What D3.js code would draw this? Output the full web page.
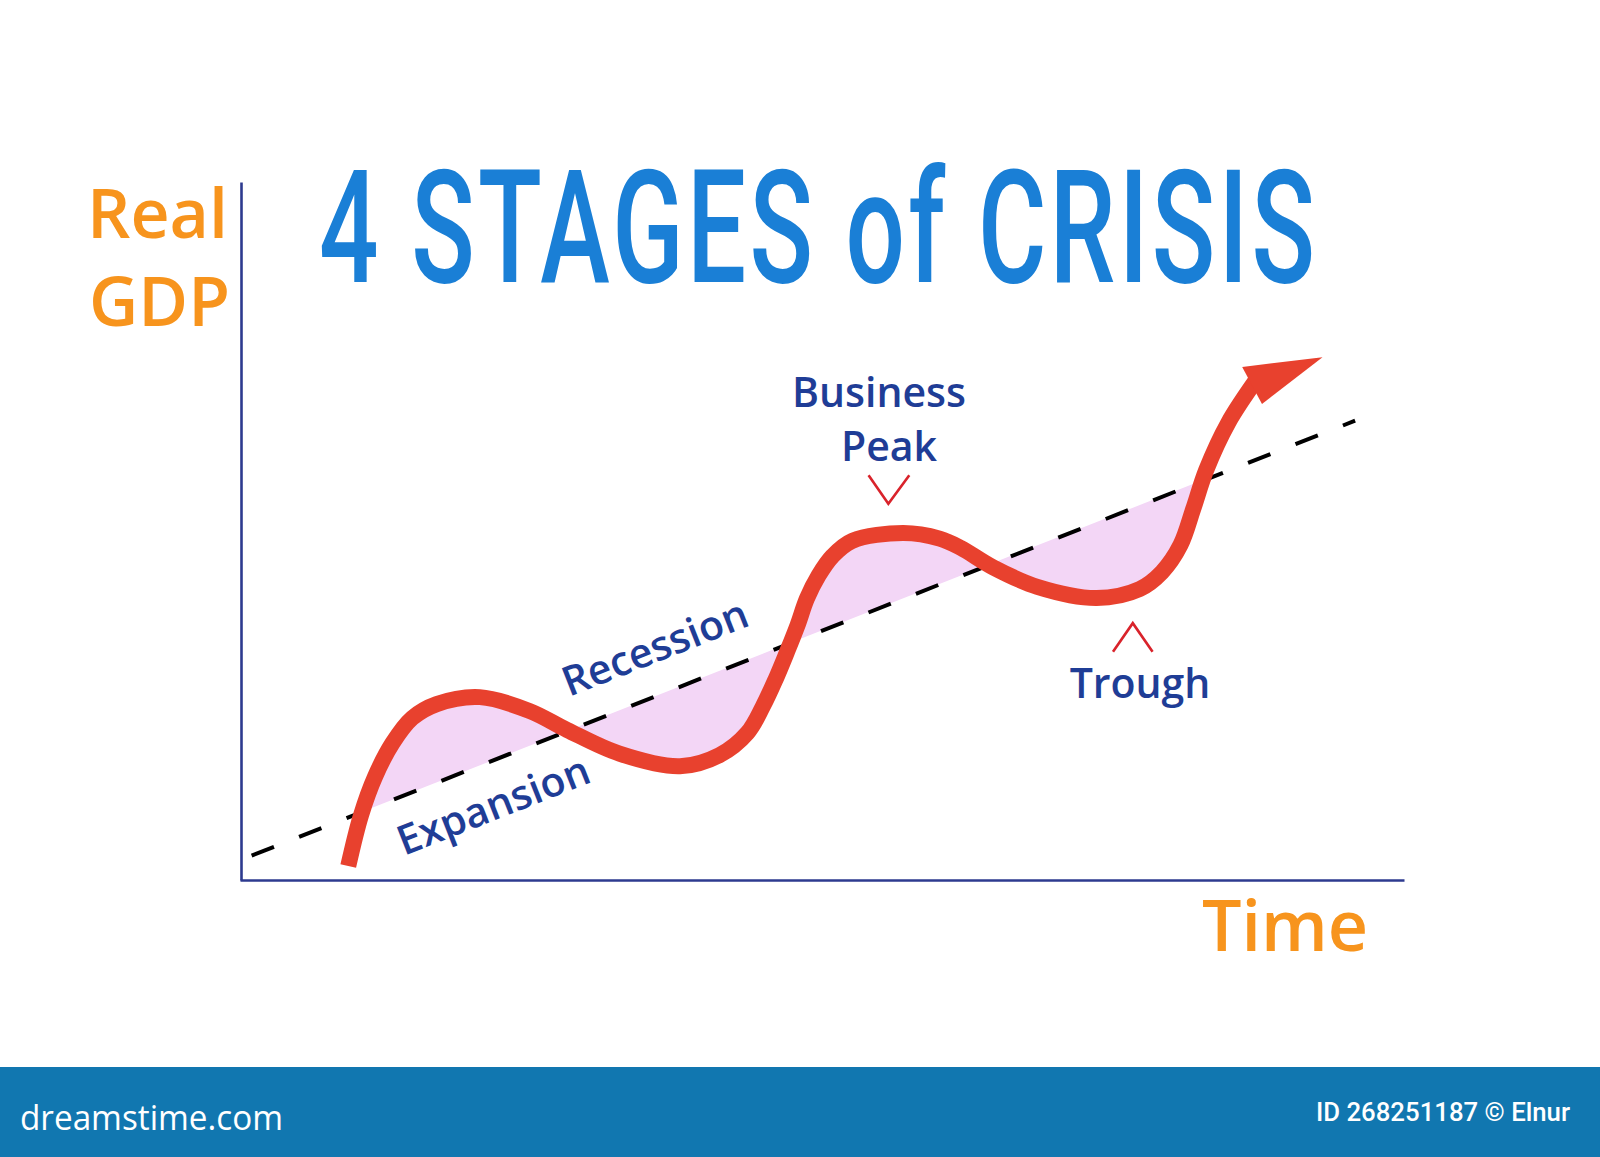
<!DOCTYPE html>
<html>
<head>
<meta charset="utf-8">
<script src="https://cdn.jsdelivr.net/npm/d3@7"></script>
<style>
  html, body { margin: 0; padding: 0; background: #ffffff; }
  svg { display: block; }
</style>
</head>
<body>
<svg id="chart" width="1600" height="1157"></svg>
<script>
// ---------------- DATA ----------------
const chartTitle = "4 STAGES of CRISIS";
const yAxisLabel = ["Real", "GDP"];
const xAxisLabel = "Time";
const stageLabels = ["Expansion", "Recession", "Business", "Peak", "Trough"];
const footerLeft = "dreamstime.com";
const footerRight = "ID 268251187 \u00A9 Elnur";

// business-cycle curve (time, real GDP) in arbitrary 0-100 units
const timeValues = [9.3, 10.4, 11.6, 13.1, 14.8, 16.9, 20.6, 24.9, 28.1, 32.6,
                    37.8, 41.2, 43.6, 44.9, 46.0, 47.0, 47.9, 48.7, 49.7, 50.9,
                    52.6, 57.0, 60.1, 61.9, 64.7, 68.5, 73.6, 77.3, 79.2, 80.8,
                    81.9, 83.0, 84.9, 87.5];
const gdpValues  = [2.0, 9.3, 14.8, 19.6, 23.2, 25.2, 26.2, 24.2, 21.5, 18.1,
                    16.3, 17.9, 21.1, 24.8, 28.7, 32.7, 36.5, 40.3, 43.6, 46.4,
                    48.6, 49.7, 48.9, 47.6, 44.8, 42.0, 40.4, 41.7, 44.1, 48.0,
                    53.2, 58.7, 65.5, 72.1];

// long-run trend (dashed line)
const trendTime = [1.0, 95.8];
const trendGdp  = [3.5, 65.8];

// arrow head at the end of the curve
const arrowTime = [93.0, 86.1, 87.8];
const arrowGdp  = [74.9, 73.5, 68.2];

// small chevron markers
const peakMarkTime   = [54.0, 55.7, 57.5];
const peakMarkGdp    = [58.0, 53.9, 58.0];
const troughMarkTime = [75.0, 76.7, 78.4];
const troughMarkGdp  = [32.7, 36.8, 32.7];

// ---------------- DRAWING ----------------
const svg = d3.select("#chart");
const W = 1600, H = 1157;

const x = d3.scaleLinear().domain([0, 100]).range([240, 1404]);
const y = d3.scaleLinear().domain([0, 100]).range([880, 182]);

const colors = {
  curve: "#e8412e",
  fill: "#f3d6f6",
  axis: "#2d3a8f",
  label: "#1f3d96",
  orange: "#f7941d",
  title: "#1a7fd6",
  marker: "#d9232b",
  footer: "#1177b0"
};

svg.append("rect").attr("width", W).attr("height", H).attr("fill", "#fff");

// title: condensed look by horizontal scaling of the glyphs
const titleSpacing = 5;
const titleText = svg.append("text")
  .attr("x", 0).attr("y", 0)
  .attr("font-family", "Roboto, 'Noto Sans', sans-serif")
  .attr("font-weight", 500)
  .attr("font-size", 157)
  .attr("letter-spacing", titleSpacing)
  .attr("fill", colors.title)
  .text(chartTitle);
const tb = titleText.node().getBBox();
const titleW = tb.width - titleSpacing;
titleText.attr("transform", `translate(319,282) scale(${996 / titleW},1)`);

// axes (domain lines only)
const xAxis = d3.axisBottom(x).tickValues([]).tickSizeOuter(0);
const yAxis = d3.axisLeft(y).tickValues([]).tickSizeOuter(0);
const gx = svg.append("g").attr("transform", "translate(0,880)").call(xAxis);
const gy = svg.append("g").attr("transform", "translate(241,0)").call(yAxis);
[gx, gy].forEach(g => g.select(".domain").attr("stroke", colors.axis).attr("stroke-width", 2.6));

// axis labels
const orangeFont = "'Open Sans', 'Noto Sans', sans-serif";
svg.append("text").attr("x", 87).attr("y", 238)
  .attr("font-family", orangeFont).attr("font-weight", 600).attr("font-size", 68)
  .attr("fill", colors.orange).text(yAxisLabel[0]);
svg.append("text").attr("x", 89).attr("y", 326)
  .attr("font-family", orangeFont).attr("font-weight", 600).attr("font-size", 68)
  .attr("fill", colors.orange).text(yAxisLabel[1]);
svg.append("text").attr("x", 1202).attr("y", 951)
  .attr("font-family", orangeFont).attr("font-weight", 600).attr("font-size", 70)
  .attr("fill", colors.orange).text(xAxisLabel);

// curve geometry
const pts = timeValues.map((t, i) => [x(t), y(gdpValues[i])]);
const lineGen = d3.line().curve(d3.curveCatmullRom.alpha(0.5));
const curveD = lineGen(pts);

// trend line in pixel space
const tx0 = x(trendTime[0]), ty0 = y(trendGdp[0]);
const tx1 = x(trendTime[1]), ty1 = y(trendGdp[1]);
const trendAt = px => ty0 + (ty1 - ty0) * (px - tx0) / (tx1 - tx0);
const trendAngle = Math.atan2(ty1 - ty0, tx1 - tx0) * 180 / Math.PI;

// sample curve to find the fill region between curve and trend
const tmp = svg.append("path").attr("d", curveD).attr("fill", "none").attr("stroke", "none");
const node = tmp.node();
const total = node.getTotalLength();
const samples = [];
for (let l = 0; l <= total; l += 1) {
  const p = node.getPointAtLength(l);
  samples.push([p.x, p.y]);
}
tmp.remove();
const sgn = samples.map(p => Math.sign(p[1] - trendAt(p[0])));
let first = -1, last = -1;
for (let i = 1; i < sgn.length; i++) {
  if (sgn[i] !== sgn[i - 1] && sgn[i] !== 0) {
    if (first < 0) first = i;
    last = i;
  }
}
const fillPts = samples.slice(first, last + 1);
svg.append("path")
  .attr("d", d3.line()(fillPts) + "Z")
  .attr("fill", colors.fill)
  .attr("stroke", "none");

// dashed trend line
svg.append("line")
  .attr("x1", tx0).attr("y1", ty0).attr("x2", tx1).attr("y2", ty1)
  .attr("stroke", "#000").attr("stroke-width", 4)
  .attr("stroke-dasharray", "24 27");

// red curve
svg.append("path")
  .attr("d", curveD)
  .attr("fill", "none")
  .attr("stroke", colors.curve)
  .attr("stroke-width", 16)
  .attr("stroke-linecap", "butt")
  .attr("stroke-linejoin", "round");

// arrow head
svg.append("path")
  .attr("d", d3.line()(arrowTime.map((t, i) => [x(t), y(arrowGdp[i])])) + "Z")
  .attr("fill", colors.curve);

// chevron markers
const markLine = d3.line();
svg.append("path")
  .attr("d", markLine(peakMarkTime.map((t, i) => [x(t), y(peakMarkGdp[i])])))
  .attr("fill", "none").attr("stroke", colors.marker).attr("stroke-width", 2.6);
svg.append("path")
  .attr("d", markLine(troughMarkTime.map((t, i) => [x(t), y(troughMarkGdp[i])])))
  .attr("fill", "none").attr("stroke", colors.marker).attr("stroke-width", 2.6);

// stage labels
const labelFont = "'Open Sans', 'Noto Sans', sans-serif";
function label(txt, px, py, anchor, rot) {
  const t = svg.append("text")
    .attr("font-family", labelFont).attr("font-weight", 600).attr("font-size", 41)
    .attr("fill", colors.label)
    .attr("text-anchor", anchor)
    .text(txt);
  if (rot) t.attr("transform", `translate(${px},${py}) rotate(${rot})`);
  else t.attr("x", px).attr("y", py);
  return t;
}
label(stageLabels[0], 404, 856, "start", trendAngle);
label(stageLabels[1], 569, 697, "start", trendAngle);
label(stageLabels[2], 879, 407, "middle");
label(stageLabels[3], 889, 461, "middle");
label(stageLabels[4], 1140, 698, "middle");

// footer band
svg.append("rect").attr("x", 0).attr("y", 1067).attr("width", W).attr("height", H - 1067)
  .attr("fill", colors.footer);
svg.append("text").attr("x", 20).attr("y", 1130)
  .attr("font-family", "'Open Sans', sans-serif").attr("font-weight", 400).attr("font-size", 34)
  .attr("fill", "#fff")
  .attr("textLength", 263).attr("lengthAdjust", "spacingAndGlyphs")
  .text(footerLeft);
svg.append("text").attr("x", 1316).attr("y", 1121)
  .attr("font-family", "Roboto, sans-serif").attr("font-weight", 500).attr("font-size", 25)
  .attr("fill", "#fff")
  .attr("textLength", 254).attr("lengthAdjust", "spacingAndGlyphs")
  .text(footerRight);
</script>
</body>
</html>
